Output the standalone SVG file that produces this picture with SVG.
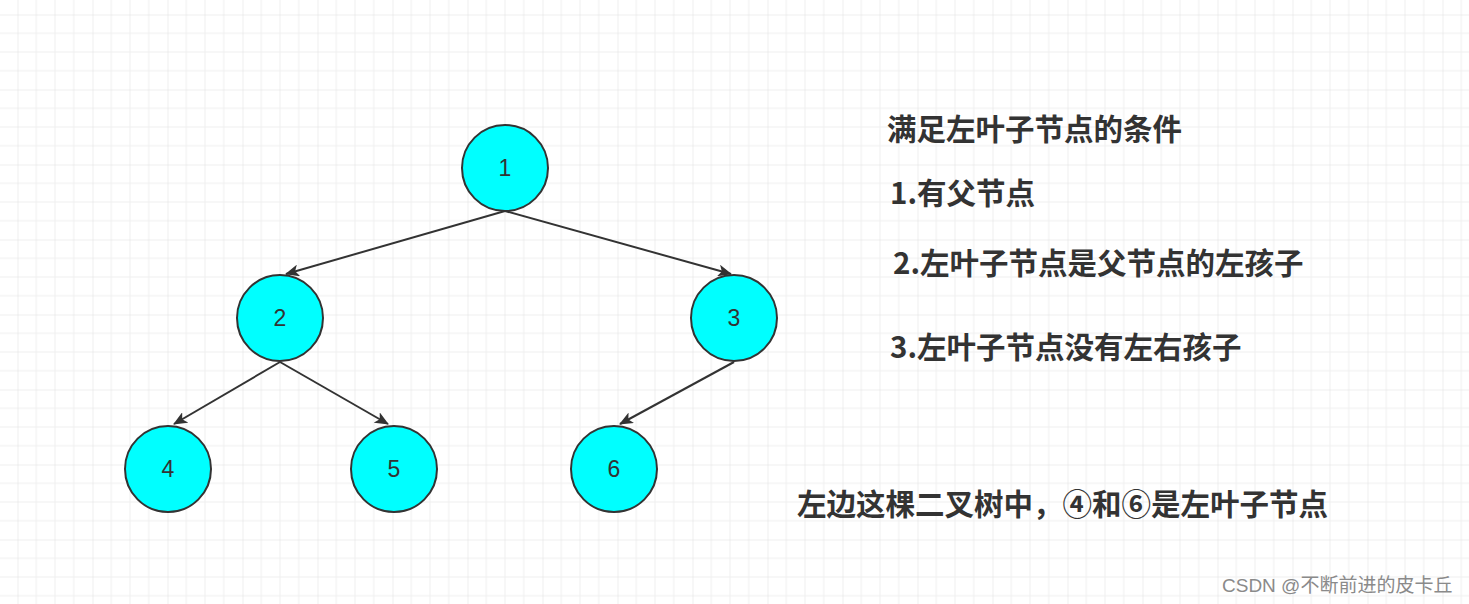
<svg xmlns="http://www.w3.org/2000/svg" width="1469" height="604" viewBox="0 0 1469 604">
<defs>
<pattern id="g" width="75" height="75" patternUnits="userSpaceOnUse" x="17.5" y="14.5">
<path d="M0 0H75M0 18.75H75M0 37.5H75M0 56.25H75M0 0V75M18.75 0V75M37.5 0V75M56.25 0V75" stroke="#efefef" stroke-width="1" fill="none"/>
<path d="M0 0H75M0 0V75" stroke="#e4e4e4" stroke-width="1" fill="none"/>
</pattern>
<marker id="a" markerWidth="14" markerHeight="12" refX="13" refY="6" orient="auto" markerUnits="userSpaceOnUse" viewBox="0 0 14 12">
<path d="M0 0L14 6L0 12L3.5 6Z" fill="#333"/>
</marker>
<style>
.n circle{fill:#00ffff;stroke:#333;stroke-width:2}
.n text{font-family:"Liberation Sans",sans-serif;font-size:23px;fill:#333;text-anchor:middle}
.e line{stroke:#333;stroke-width:2;marker-end:url(#a)}
.t{font-family:"Noto Sans CJK SC",sans-serif;font-size:29.5px;font-weight:bold;fill:#333}
</style>
</defs>
<rect width="1469" height="604" fill="#fff"/>
<rect width="1469" height="604" fill="url(#g)"/>
<g id="edges" class="e">
<line x1="505" y1="211" x2="286" y2="274"/>
<line x1="505" y1="211" x2="731" y2="274"/>
<line x1="280" y1="362" x2="174" y2="424"/>
<line x1="280" y1="362" x2="388" y2="424"/>
<line x1="734" y1="362" x2="620" y2="424"/>
</g>
<g id="n1" class="n"><circle cx="505" cy="168" r="43"/><text x="505" y="176">1</text></g>
<g id="n2" class="n"><circle cx="280" cy="318" r="43"/><text x="280" y="326">2</text></g>
<g id="n3" class="n"><circle cx="734" cy="318" r="43"/><text x="734" y="326">3</text></g>
<g id="n4" class="n"><circle cx="168" cy="469" r="43"/><text x="168" y="477">4</text></g>
<g id="n5" class="n"><circle cx="394" cy="469" r="43"/><text x="394" y="477">5</text></g>
<g id="n6" class="n"><circle cx="614" cy="469" r="43"/><text x="614" y="477">6</text></g>
<g id="notes">
<text class="t" x="887" y="140">满足左叶子节点的条件</text>
<text class="t" x="890" y="204">1.有父节点</text>
<text class="t" x="893" y="274">2.左叶子节点是父节点的左孩子</text>
<text class="t" x="890" y="358">3.左叶子节点没有左右孩子</text>
<text class="t" x="797" y="515">左边这棵二叉树中，④和⑥是左叶子节点</text>
<text x="1222" y="592" font-family="'Liberation Sans','Noto Sans CJK SC',sans-serif" font-size="19" fill="#8a8a8a">CSDN @不断前进的皮卡丘</text>
</g>
</svg>
